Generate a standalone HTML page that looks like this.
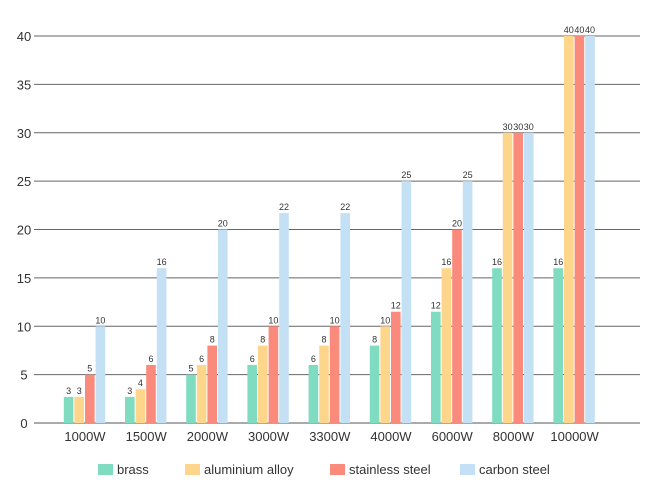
<!DOCTYPE html>
<html><head><meta charset="utf-8"><style>
body{margin:0;background:#fff;}
svg{display:block;font-family:"Liberation Sans",sans-serif;}
</style></head><body>
<svg id="chart" width="650" height="494"></svg>
<script>
const categories=["1000W","1500W","2000W","3000W","3300W","4000W","6000W","8000W","10000W"];
const seriesNames=["brass","aluminium alloy","stainless steel","carbon steel"];
const brass=[2.7,2.7,5,6,6,8,11.5,16,16];
const aluminium=[2.7,3.5,6,8,8,10,16,30,40];
const stainless=[5,6,8,10,10,11.5,20,30,40];
const carbon=[10,16,20,21.7,21.7,25,25,30,40];
const brassLabels=[3,3,5,6,6,8,12,16,16];
const aluminiumLabels=[3,4,6,8,8,10,16,30,40];
const stainlessLabels=[5,6,8,10,10,12,20,30,40];
const carbonLabels=[10,16,20,22,22,25,25,30,40];
const yTicks=[0,5,10,15,20,25,30,35,40];
const colors=["#7fdcc0","#fdd68c","#f98a7c","#c4e0f4"];
const svg=document.getElementById('chart');
const NS="http://www.w3.org/2000/svg";
const y0=423,yMax=36,xL=34,xR=640;
const y=v=>y0-(v/40)*(y0-yMax);
const xc=i=>85+i*61.2;
function mk(t,a){const e=document.createElementNS(NS,t);for(const k in a)e.setAttribute(k,a[k]);svg.appendChild(e);return e;}
yTicks.forEach(t=>{
 const l=mk('line',{x1:xL,x2:xR,y1:y(t),y2:y(t),stroke:t===0?'#555':'#666','stroke-width':1});
 
 
 const tx=mk('text',{x:24,y:y(t)+5,'text-anchor':'middle','font-size':13,fill:'#333'});
 tx.textContent=t;
 
 
});
const series=[brass,aluminium,stainless,carbon];
const labels=[brassLabels,aluminiumLabels,stainlessLabels,carbonLabels];
const bw=9.6,gap=1;
categories.forEach((c,i)=>{
 series.forEach((s,j)=>{
  const x=xc(i)-2*(bw+gap)+j*(bw+gap);
  const r=mk('rect',{x:x,y:y(s[i]),width:bw,height:y0-y(s[i]),fill:colors[j]});
  
  
  const t=mk('text',{x:x+bw/2,y:y(s[i])-3,'text-anchor':'middle','font-size':9,fill:'#333'});
  t.textContent=labels[j][i];
  
  
 });
 const t=mk('text',{x:xc(i),y:441,'text-anchor':'middle','font-size':13,fill:'#333'});
 t.textContent=c;
 
 
});
const legX=[98,185,330,460];
seriesNames.forEach((n,j)=>{
 const r=mk('rect',{x:legX[j],y:464,width:15,height:11,fill:colors[j]});
 
 
 const t=mk('text',{x:legX[j]+19,y:474,'font-size':13,fill:'#333'});
 t.textContent=n;
 
 
});
</script>
</body></html>
